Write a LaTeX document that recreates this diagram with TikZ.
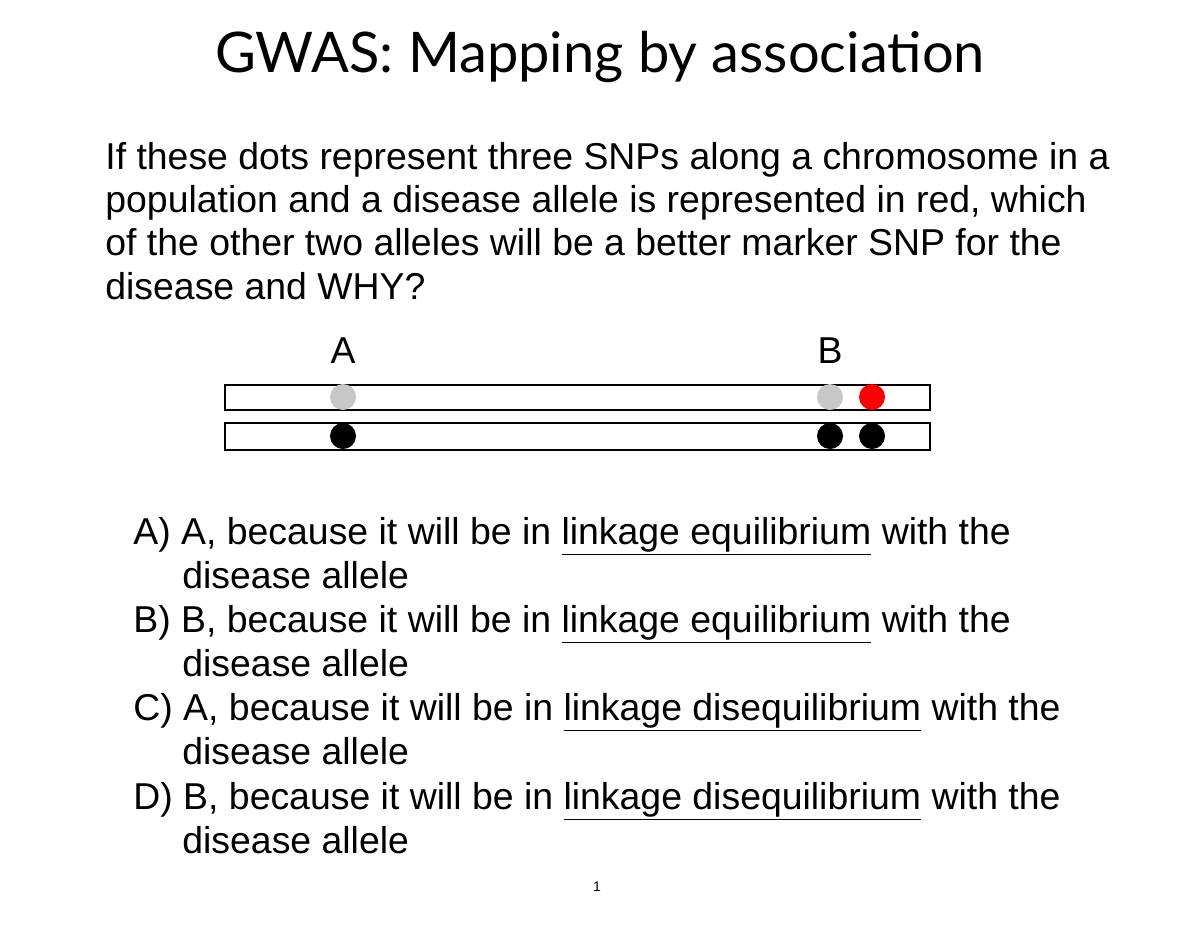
\documentclass[tikz,border=0pt]{standalone}
\usepackage{fontspec}
\setmainfont{Liberation Sans}
\newfontfamily\titlefont{Lato}
\begin{document}
\begin{tikzpicture}[x=0.5pt,y=-0.5pt,
  txt/.style={anchor=base west,inner sep=0pt,font=\fontsize{18.7}{21}\selectfont},
  bar/.style={draw,line width=1.2pt,fill=white},
  dot/.style={circle,inner sep=0pt,minimum size=13pt}]
\useasboundingbox (0,0) rectangle (1200,927);
\node[inner sep=0pt,font=\titlefont\fontsize{28}{32}\selectfont] (title) at (600,57) {GWAS: Mapping by association};
\node[txt] (q1) at (105,169) {If these dots represent three SNPs along a chromosome in a};
\node[txt] (q2) at (105,212) {population and a disease allele is represented in red, which};
\node[txt] (q3) at (105,255) {of the other two alleles will be a better marker SNP for the};
\node[txt] (q4) at (105,299) {disease and WHY?};
\node[txt,anchor=base] (la) at (343,363) {A};
\node[txt,anchor=base] (lb) at (830,363) {B};
\draw[bar] (225,385) rectangle (930,410);
\draw[bar] (225,423) rectangle (930,450);
\node[dot,fill=black!22] (a1) at (343,397) {};
\node[dot,fill=black!22] (b1) at (830,397) {};
\node[dot,fill=red] (c1) at (872,397) {};
\node[dot,fill=black] (a2) at (343,436) {};
\node[dot,fill=black] (b2) at (830,436) {};
\node[dot,fill=black] (c2) at (872,436) {};
\node[txt] (oa) at (133,544) {A) A, because it will be in \underline{linkage equilibrium} with the};
\node[txt] (oa2) at (182,588) {disease allele};
\node[txt] (ob) at (133,632) {B) B, because it will be in \underline{linkage equilibrium} with the};
\node[txt] (ob2) at (182,676) {disease allele};
\node[txt] (oc) at (133,720) {C) A, because it will be in \underline{linkage disequilibrium} with the};
\node[txt] (oc2) at (182,764) {disease allele};
\node[txt] (od) at (133,809) {D) B, because it will be in \underline{linkage disequilibrium} with the};
\node[txt] (od2) at (182,853) {disease allele};
\node[inner sep=0pt,font=\fontsize{7}{8}\selectfont] (pg) at (597,887) {1};
\end{tikzpicture}
\end{document}
